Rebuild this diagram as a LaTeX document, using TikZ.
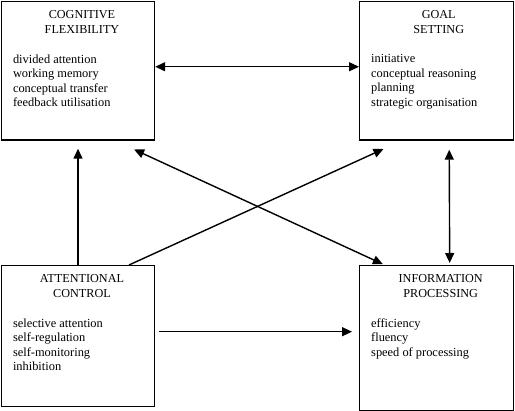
\documentclass[tikz,border=0pt]{standalone}
\usepackage{fontspec}
\setmainfont{Liberation Serif}
\usetikzlibrary{arrows.meta}

\tikzset{
  box/.style = {shape = rectangle, draw = black, line width = 1.4pt,
                anchor = north west, inner sep = 0pt},
  heading/.style = {anchor = north, align = center, inner sep = 0pt,
                    font = \fontsize{12.2}{14.5}\selectfont},
  items/.style = {anchor = north west, align = left, inner sep = 0pt,
                  font = \fontsize{12.4}{14.5}\selectfont},
  link/.style = {line width = 1.4pt, {Triangle[length=10pt,width=9pt]}-{Triangle[length=10pt,width=9pt]}},
  onelink/.style = {line width = 1.4pt, -{Triangle[length=10pt,width=9pt]}},
}

\begin{document}
\begin{tikzpicture}[x = 1pt, y = -1pt]
        \useasboundingbox (0, 0) rectangle (515, 411);

        % ------------------------------------------------------------------------
        % Boxes
        \node[box, minimum width = 153pt, minimum height = 138.5pt] at (0.8, 0.8)   (cf) {};
        \node[box, minimum width = 154pt, minimum height = 138.5pt] at (359, 0.8)   (gs) {};
        \node[box, minimum width = 153pt, minimum height = 141pt]   at (0.8, 265)   (ac) {};
        \node[box, minimum width = 154pt, minimum height = 145pt]   at (359, 265)   (ip) {};

        % ------------------------------------------------------------------------
        % Texts
        \node[heading] at ([xshift = 4pt, yshift = -9.5pt]cf.north) (cf title) {COGNITIVE\\FLEXIBILITY};
        \node[items] at ([xshift = 12pt, yshift = -53.5pt]cf.north west) (cf items)
          {divided attention\\working memory\\conceptual transfer\\feedback utilisation};

        \node[heading] at ([xshift = 2pt, yshift = -9.5pt]gs.north) (gs title) {GOAL\\SETTING};
        \node[items] at ([xshift = 12pt, yshift = -53.5pt]gs.north west) (gs items)
          {initiative\\conceptual reasoning\\planning\\strategic organisation};

        \node[heading] at ([xshift = 4pt, yshift = -9.5pt]ac.north) (ac title) {ATTENTIONAL\\CONTROL};
        \node[items] at ([xshift = 12pt, yshift = -53.5pt]ac.north west) (ac items)
          {selective attention\\self-regulation\\self-monitoring\\inhibition};

        \node[heading] at ([xshift = 4pt, yshift = -9.5pt]ip.north) (ip title) {INFORMATION\\PROCESSING};
        \node[items] at ([xshift = 12pt, yshift = -53.5pt]ip.north west) (ip items)
          {efficiency\\fluency\\speed of processing};

        % ------------------------------------------------------------------------
        % Connectors
        \path[link]
          ([yshift = 4pt]cf.east) edge ([yshift = 4pt]gs.west)
        ;
        \path[link, shorten < = 21pt, shorten > = 2pt]
          ([xshift = 37pt]cf.south) edge ([xshift = -52pt]ip.north)
        ;
        \path[link, shorten < = 9pt, shorten > = 2pt]
          ([xshift = 12.5pt]gs.south) edge ([xshift = 13pt]ip.north)
        ;
        \path[onelink, shorten > = 8pt]
          (ac.north) edge (cf.south)
        ;
        \path[onelink, shorten > = 20pt]
          ([xshift = 51pt]ac.north) edge ([xshift = -35pt]gs.south)
        ;
        \path[onelink, shorten < = 4pt, shorten > = 7pt]
          ([yshift = 4.5pt]ac.east) edge ([yshift = 6.5pt]ip.west)
        ;
      \end{tikzpicture}
\end{document}
